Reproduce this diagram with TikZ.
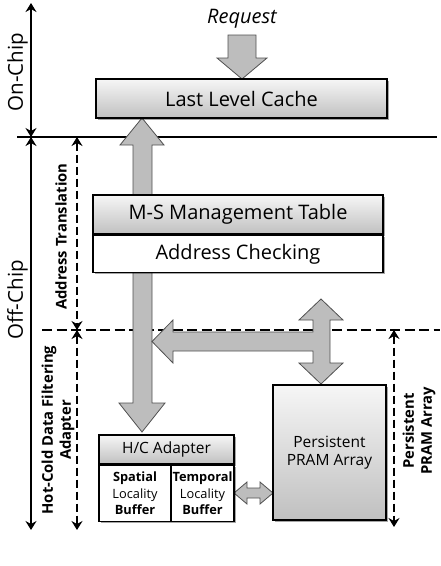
\documentclass[tikz,border=0pt]{standalone}
\usepackage{fontspec}
\setmainfont{Open Sans}
\usetikzlibrary{arrows.meta,shadows}
\definecolor{arrowgray}{HTML}{BDBDBD}
\definecolor{arrowedge}{HTML}{505050}
\definecolor{boxtop}{HTML}{F6F6F6}
\definecolor{boxbot}{HTML}{C0C0C0}
\newcommand\fsmain{\fontsize{20}{24}\selectfont}
\newcommand\fsmid{\fontsize{15.5}{18.5}\selectfont}
\newcommand\fslab{\fontsize{14.8}{18}\selectfont}
\newcommand\fscell{\fontsize{12.8}{16.5}\selectfont}
\begin{document}
\begin{tikzpicture}[x=1pt,y=-1pt,
  box/.style={draw=black, line width=1.3pt, inner sep=0pt, align=center,
    drop shadow={shadow xshift=1.5pt, shadow yshift=-1.5pt, opacity=0.35, fill=black}},
  graybox/.style={box, top color=boxtop, bottom color=boxbot},
  whitebox/.style={box, fill=white},
  blockarrow/.style={fill=arrowgray, draw=arrowedge, line width=0.8pt, line join=miter},
  dimsolid/.style={line width=2pt, {Stealth[length=9pt,width=11pt,inset=3pt]}-{Stealth[length=9pt,width=11pt,inset=3pt]}},
  dimdash/.style={dimsolid, dash pattern=on 8pt off 4pt},
  sidelabel/.style={rotate=90, align=center, inner sep=0pt},
  ]
\useasboundingbox (0,0) rectangle (440,566);

% separator lines
\coordinate (solidL) at (17,137);
\coordinate (solidR) at (437,137);
\coordinate (dashL) at (42,330);
\coordinate (dashR) at (440,330);
\draw[line width=1.9pt] (solidL) -- (solidR);
\draw[line width=1.9pt, dash pattern=on 10pt off 4.5pt] (dashL) -- (dashR);

% block arrows
\draw[blockarrow] (228,35) -- (256,35) -- (256,58) -- (267,58) -- (242,79) -- (217,58) -- (228,58) -- cycle;
\draw[blockarrow] (142,118) -- (164,145) -- (152,145) -- (152,403) -- (165,403) -- (142,432)
  -- (119,403) -- (133,403) -- (133,145) -- (120,145) -- cycle;
\draw[blockarrow] (321,299) -- (343,320) -- (330,320) -- (330,363) -- (343,363) -- (321,384)
  -- (299,363) -- (313,363) -- (313,351) -- (173,351) -- (173,363) -- (152,341.5)
  -- (173,320) -- (173,332) -- (313,332) -- (313,320) -- (299,320) -- cycle;
\draw[blockarrow] (234,493) -- (247,482) -- (247,488) -- (260,488) -- (260,482) -- (273,493)
  -- (260,504) -- (260,498) -- (247,498) -- (247,504) -- cycle;

% boxes
\node[graybox, minimum width=291pt, minimum height=39pt, font=\fsmain] (llc) at (241.5,98.5) {Last Level Cache};
\node[graybox, minimum width=290pt, minimum height=39pt, font=\fsmain] (mst) at (238,214.5) {M-S Management Table};
\node[whitebox, minimum width=290pt, minimum height=37pt, font=\fsmain, anchor=north] (ac) at (mst.south) {Address Checking};

\node[graybox, minimum width=135pt, minimum height=29pt, font=\fsmid] (hc) at (166.5,449.5) {H/C Adapter};
\node[whitebox, minimum width=72pt, minimum height=56pt, font=\fscell, anchor=north west] (slb) at (hc.south west)
  {\textbf{Spatial}\\Locality\\\textbf{Buffer}};
\node[whitebox, minimum width=63pt, minimum height=56pt, font=\fscell, anchor=north east] (tlb) at (hc.south east)
  {\textbf{Temporal}\\Locality\\\textbf{Buffer}};

\node[graybox, minimum width=113pt, minimum height=135pt, font=\fsmid] (pram) at (329.5,452.5) {Persistent\\PRAM Array};

% request
\node[font=\fsmain\itshape, inner sep=0pt] (req) at (242,19) {Request};

% dimension arrows
\coordinate (onT) at (31,3);
\coordinate (onB) at (31,137);
\coordinate (offB) at (31,530);
\coordinate (atT) at (77,137);
\coordinate (atB) at (77,330);
\coordinate (hcB) at (77,530);
\coordinate (prT) at (394,330);
\coordinate (prB) at (394,527);
\draw[dimsolid] (onT) -- (onB);
\draw[dimsolid] (onB) -- (offB);
\draw[dimdash] (atT) -- (atB);
\draw[dimdash] (atB) -- (hcB);
\draw[dimdash] (prT) -- (prB);

% side labels
\node[sidelabel, font=\fontsize{20.5}{24}\selectfont] (onlab) at (17.5,72) {On-Chip};
\node[sidelabel, font=\fontsize{20.5}{24}\selectfont] (offlab) at (17.5,300) {Off-Chip};
\node[sidelabel, font=\fslab\bfseries] (atlab) at (61,236.5) {Address Translation};
\node[sidelabel, font=\fslab\bfseries] (hclab) at (58,430) {Hot-Cold Data Filtering\\Adapter};
\node[sidelabel, font=\fslab\bfseries] (prlab) at (419,431) {Persistent\\PRAM Array};
\end{tikzpicture}
\end{document}
